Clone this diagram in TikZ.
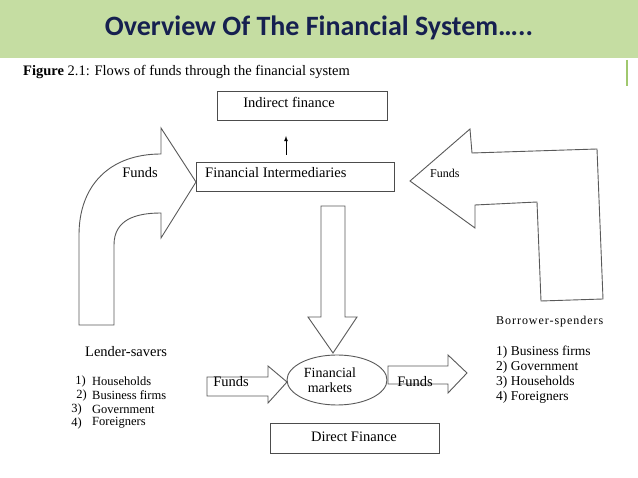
\documentclass[tikz,border=0pt]{standalone}
\usepackage{fontspec}
\setmainfont{Liberation Serif}
\newfontfamily\titlefont{Carlito}
\begin{document}
\begin{tikzpicture}[x=1pt,y=-1pt,
  shp/.style={draw=black!65,line width=0.9pt,line join=miter},
  bx/.style={draw=black!70,line width=0.9pt},
  txt/.style={font=\fontsize{14.5}{16}\selectfont,inner sep=0pt},
  stxt/.style={font=\fontsize{13.5}{15}\selectfont,inner sep=0pt,anchor=west},
  ltxt/.style={font=\fontsize{12.5}{13}\selectfont,inner sep=0pt,anchor=west}]
\useasboundingbox (0,0) rectangle (638,478);
\fill[white] (0,0) rectangle (638,478);
\fill[fill={rgb,255:red,197;green,221;blue,162}] (0,0) rectangle (638,58);
\node[font=\titlefont\bfseries\fontsize{28}{30}\selectfont,text={rgb,255:red,22;green,32;blue,80}] (title) at (319,28) {Overview Of The Financial System\dots..};
\draw[line width=1.2pt,color={rgb,255:red,160;green,200;blue,110}] (627,60) -- (627,86);
\node[font=\fontsize{14.5}{16}\selectfont,anchor=west,inner sep=0pt] (cap) at (23,72) {\textbf{Figure} 2.1: Flows of funds through the financial system};
% boxes
\draw[bx] (217,91) rectangle (387,120);
\node[txt] (ind) at (289,102) {Indirect finance};
\draw[bx] (196,162) rectangle (394,191);
\node[stxt,font=\fontsize{14.5}{16}\selectfont] (fi) at (205,173) {Financial Intermediaries};
\coordinate (fitop) at (286,155);
\coordinate (indbot) at (286,136);
\draw[-latex,line width=0.8pt] (fitop) -- (indbot);
% left bent arrow
\draw[shp] (79,325) -- (79,235) .. controls (79,185) and (110,154) .. (161,154) -- (161,128) -- (196,182) -- (161,238) -- (161,213) .. controls (135,213) and (114,220) .. (114,245) -- (114,325) -- cycle;
\node[txt] (f1) at (140,173) {Funds};
% right bent arrow
\draw[shp] (410,181) -- (470,129) -- (472,153) -- (597,149) -- (603,299) -- (541,301) -- (537,202) -- (475,205) -- (475,228) -- cycle;
\node[txt,font=\fontsize{12}{13}\selectfont,anchor=west] (f2) at (430,173) {Funds};
% down arrow
\draw[shp] (321,206) -- (345,206) -- (345,317) -- (357,317) -- (333,353) -- (308,317) -- (321,317) -- cycle;
% ellipse
\draw[shp] (337,380) ellipse (50 and 25);
\node[txt,align=center,font=\fontsize{14}{15}\selectfont] (fm) at (330,380) {Financial\\markets};
% left funds arrow
\draw[shp] (207,377) -- (268,377) -- (268,366) -- (287,382) -- (268,403) -- (268,396) -- (207,396) -- cycle;
\node[txt] (f3) at (231,382) {Funds};
% right funds arrow
\draw[shp] (388,366) -- (448,366) -- (448,355) -- (467,373) -- (448,393) -- (448,384) -- (388,384) -- cycle;
\node[txt] (f4) at (415,382) {Funds};
% direct finance
\draw[bx] (270,423) rectangle (439,453);
\node[txt] (dir) at (354,437) {Direct Finance};
% lender list
\node[stxt,font=\fontsize{14.5}{16}\selectfont] (ls) at (85,352) {Lender-savers};
\node[ltxt,anchor=east] (n1) at (86,381) {1)};
\node[ltxt] (l1) at (92,381) {Households};
\node[ltxt,anchor=east] (n2) at (87,395) {2)};
\node[ltxt] (l2) at (92,395) {Business firms};
\node[ltxt,anchor=east] (n3) at (82,409) {3)};
\node[ltxt] (l3) at (92,409) {Government};
\node[ltxt,anchor=east] (n4) at (82,423) {4)};
\node[ltxt] (l4) at (92,423) {Foreigners};
% borrower list
\node[stxt,font=\fontsize{12}{13}\selectfont\addfontfeature{LetterSpace=8}] (bs) at (496,322) {Borrower-spenders};
\node[stxt] (b1) at (496,352) {1) Business firms};
\node[stxt] (b2) at (496,367) {2) Government};
\node[stxt] (b3) at (496,382) {3) Households};
\node[stxt] (b4) at (496,397) {4) Foreigners};
\end{tikzpicture}
\end{document}
